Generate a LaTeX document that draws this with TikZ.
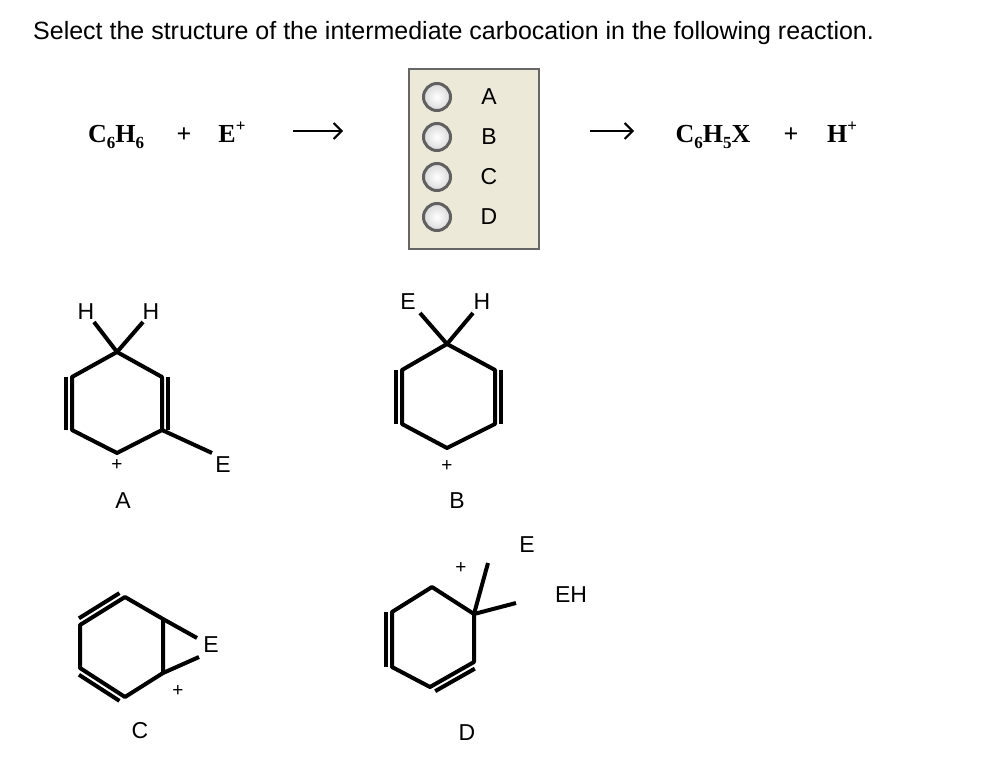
\documentclass[tikz,border=0pt]{standalone}
\usepackage{fontspec}
\setmainfont{Liberation Sans}
\newfontfamily\serif{Liberation Serif}
\usetikzlibrary{arrows.meta,calc}
\begin{document}
\begin{tikzpicture}[x=1pt,y=-1pt,
  bond/.style={line width=4pt},
  lbl/.style={inner sep=0pt,font=\fontsize{23}{25}\selectfont},
  plus/.style={inner sep=0pt,font=\fontsize{19}{21}\selectfont},
  eq/.style={inner sep=0pt,anchor=base,font=\serif\bfseries\fontsize{26}{28}\selectfont},
  radio/.style={circle,minimum size=27pt,inner sep=0pt,draw=gray!75!black,line width=3pt,inner color=white,outer color=gray!30},
  arr/.style={line width=2pt,-{Straight Barb[length=8pt,width=16pt]}}]
\useasboundingbox (0,0) rectangle (996,774);
\node[anchor=west,inner sep=0pt,font=\fontsize{25}{27}\selectfont] (title) at (33,33) {Select the structure of the intermediate carbocation in the following reaction.};
% reaction
\node[eq] (r1) at (116,142) {C\raisebox{-6pt}{\fontsize{17}{18}\selectfont 6}H\raisebox{-6pt}{\fontsize{17}{18}\selectfont 6}};
\node[eq] (pl1) at (184,142) {+};
\node[eq] (r2) at (232,142) {E\raisebox{11pt}{\fontsize{17}{18}\selectfont +}};
\coordinate (a1s) at (293,131); \coordinate (a1e) at (343,131);
\draw[arr] (a1s) -- (a1e);
\coordinate (a2s) at (590,131); \coordinate (a2e) at (634,131);
\draw[arr] (a2s) -- (a2e);
\node[eq] (p1) at (713,142) {C\raisebox{-6pt}{\fontsize{17}{18}\selectfont 6}H\raisebox{-6pt}{\fontsize{17}{18}\selectfont 5}X};
\node[eq] (pl2) at (791,142) {+};
\node[eq] (p2) at (842,142) {H\raisebox{11pt}{\fontsize{17}{18}\selectfont +}};
% choice box
\node[draw=gray!80!black,line width=2.5pt,fill={rgb,255:red,236;green,233;blue,216},minimum width=130pt,minimum height=180pt,inner sep=0pt] (box) at (474,159) {};
\foreach \y/\t in {97/A,137/B,177/C,217/D}{
  \node[radio] (rb\t) at (437,\y) {};
  \node[lbl] (rl\t) at (489,\y) {\t};
}
% Structure A
\coordinate (At) at (117,352); \coordinate (Aul) at (72,377); \coordinate (All) at (72,430);
\coordinate (Ab) at (117,453); \coordinate (Alr) at (162,430); \coordinate (Aur) at (162,377);
\node[lbl] (AH1) at (86,312) {H}; \node[lbl] (AH2) at (151,312) {H};
\node[lbl] (AE) at (223,465) {E}; \node[plus] (Ap) at (117,465) {+}; \node[lbl] (AL) at (123,501) {A};
\draw[bond,line join=round] (Aul) -- (At) -- (Aur) -- (Alr) -- (Ab) -- (All) -- cycle;
\draw[bond] ([xshift=-6pt]Aul) -- ([xshift=-6pt]All);
\draw[bond] ([xshift=6pt]Aur) -- ([xshift=6pt]Alr);
\draw[bond] (At) -- (94,322); \draw[bond] (At) -- (143,322);
\draw[bond] (Alr) -- (212,453);
% Structure B
\coordinate (Bt) at (447,344); \coordinate (Bul) at (402,370); \coordinate (Bll) at (402,424);
\coordinate (Bb) at (447,448); \coordinate (Blr) at (495,424); \coordinate (Bur) at (495,370);
\node[lbl] (BE) at (408,302) {E}; \node[lbl] (BH) at (482,302) {H};
\node[plus] (Bp) at (447,466) {+}; \node[lbl] (BL) at (457,501) {B};
\draw[bond,line join=round] (Bul) -- (Bt) -- (Bur) -- (Blr) -- (Bb) -- (Bll) -- cycle;
\draw[bond] ([xshift=-6pt]Bul) -- ([xshift=-6pt]Bll);
\draw[bond] ([xshift=6pt]Bur) -- ([xshift=6pt]Blr);
\draw[bond] (Bt) -- (420,313); \draw[bond] (Bt) -- (473,313);
% Structure C
\coordinate (Ct) at (125,597); \coordinate (Cur) at (163,619); \coordinate (Clr) at (163,673);
\coordinate (Cb) at (125,697); \coordinate (Cll) at (80,668); \coordinate (Cul) at (80,625);
\node[lbl] (CE) at (211,645) {E}; \node[plus] (Cp) at (178,691) {+}; \node[lbl] (CL) at (140,731) {C};
\draw[bond,line join=round] (Cul) -- (Ct) -- (Cur) -- (Clr) -- (Cb) -- (Cll) -- cycle;
\draw[bond] ($(Cul)!0.05!(Ct)+(-3.3,-5.3)$) -- ($(Cul)!0.95!(Ct)+(-3.3,-5.3)$);
\draw[bond] ($(Cll)!0.05!(Cb)+(-3.3,5.3)$) -- ($(Cll)!0.95!(Cb)+(-3.3,5.3)$);
\draw[bond] (Cur) -- (197,638); \draw[bond] (Clr) -- (199,657);
% Structure D
\coordinate (Dt) at (432,587); \coordinate (Dr) at (474,614); \coordinate (Dlr) at (474,662);
\coordinate (Db) at (430,687); \coordinate (Dll) at (392,667); \coordinate (Dul) at (392,612);
\node[lbl] (DE) at (527,545) {E}; \node[lbl] (DEH) at (571,595) {EH};
\node[plus] (Dp) at (461,568) {+}; \node[lbl] (DL) at (467,733) {D};
\draw[bond,line join=round] (Dul) -- (Dt) -- (Dr) -- (Dlr) -- (Db) -- (Dll) -- cycle;
\draw[bond] ([xshift=-6pt]Dul) -- ([xshift=-6pt]Dll);
\draw[bond] ($(Dlr)!0.05!(Db)+(3,5.4)$) -- ($(Dlr)!0.95!(Db)+(3,5.4)$);
\draw[bond] (Dr) -- (488,563); \draw[bond] (Dr) -- (516,603);
\end{tikzpicture}
\end{document}
